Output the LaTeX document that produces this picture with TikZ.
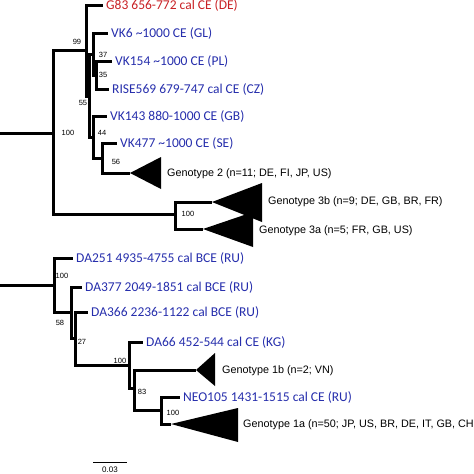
\documentclass[tikz,border=0pt]{standalone}
\usepackage{fontspec}
\setmainfont{Liberation Sans}
\newfontfamily\calfont{Carlito}
\definecolor{tipblue}{RGB}{38,46,172}
\definecolor{tipred}{RGB}{200,32,36}
\begin{document}
\begin{tikzpicture}[x=1pt,y=-1pt,
  br/.style={line width=3pt},
  tri/.style={fill=black,draw=none},
  tiplab/.style={anchor=west,inner xsep=3pt,inner ysep=0pt,font=\calfont\fontsize{13.5}{14}\selectfont,text=tipblue},
  genlab/.style={anchor=west,inner sep=0pt,font=\fontsize{10.8}{12}\selectfont},
  bs/.style={inner sep=0pt,font=\fontsize{7.5}{8}\selectfont}]
\useasboundingbox (0,0) rectangle (474,474);
% ---------- upper tree ----------
\coordinate (r1) at (0,133);
\coordinate (n1) at (53,133);
\coordinate (n99) at (86,50);
\coordinate (n55) at (89,96);
\coordinate (n37) at (93,54);
\coordinate (n35) at (96,75);
\coordinate (n44) at (93,137);
\coordinate (n56) at (102,158);
\coordinate (n3) at (175,214);
\coordinate (g2) at (130,173);
\coordinate (g3b) at (212,202);
\coordinate (g3a) at (203,229);
\node[tiplab,text=tipred] (g83) at (103,5) {G83 656-772 cal CE (DE)};
\node[tiplab] (vk6) at (108,33) {VK6 \textasciitilde1000 CE (GL)};
\node[tiplab] (vk154) at (112,61) {VK154 \textasciitilde1000 CE (PL)};
\node[tiplab] (rise) at (109,89) {RISE569 679-747 cal CE (CZ)};
\node[tiplab] (vk143) at (107,116) {VK143 880-1000 CE (GB)};
\node[tiplab] (vk477) at (117,143) {VK477 \textasciitilde1000 CE (SE)};
\draw[br] (r1) -- (n1);
\draw[br] (n1) |- (n99);
\draw[br] (n1) |- (n3);
\draw[br] (n99) |- (g83.west);
\draw[br] (n99) |- (n55);
\draw[br] (n55) |- (n37);
\draw[br] (n55) |- (n44);
\draw[br] (n37) |- (vk6.west);
\draw[br] (n37) |- (n35);
\draw[br] (n35) |- (vk154.west);
\draw[br] (n35) |- (rise.west);
\draw[br] (n44) |- (vk143.west);
\draw[br] (n44) |- (n56);
\draw[br] (n56) |- (vk477.west);
\draw[br] (n56) |- (g2);
\draw[br] (n3) |- (g3b);
\draw[br] (n3) |- (g3a);
\coordinate (g2t) at (161,157); \coordinate (g2b) at (161,189);
\fill[tri] (g2) -- (g2t) -- (g2b) -- cycle;
\coordinate (g3bt) at (262,183); \coordinate (g3bb) at (262,222);
\fill[tri] (g3b) -- (g3bt) -- (g3bb) -- cycle;
\coordinate (g3at) at (253,212); \coordinate (g3ab) at (253,247);
\fill[tri] (g3a) -- (g3at) -- (g3ab) -- cycle;
\node[genlab] (l2) at (167,174) {Genotype 2 (n=11; DE, FI, JP, US)};
\node[genlab] (l3b) at (268,202) {Genotype 3b (n=9; DE, GB, BR, FR)};
\node[genlab] (l3a) at (259,231) {Genotype 3a (n=5; FR, GB, US)};
\node[bs] (s99) at (77,42) {99};
\node[bs] (s100a) at (68,133) {100};
\node[bs] (s37) at (103,55) {37};
\node[bs] (s35) at (103,75) {35};
\node[bs] (s55) at (83,103) {55};
\node[bs] (s44) at (102,133) {44};
\node[bs] (s56) at (116,162) {56};
\node[bs] (s100b) at (188,214) {100};
% ---------- lower tree ----------
\coordinate (r2) at (0,285);
\coordinate (m1) at (54,285);
\coordinate (n58) at (71,312);
\coordinate (n27) at (75,338);
\coordinate (nk) at (129,365);
\coordinate (n83) at (134,388);
\coordinate (n1a) at (161,410);
\coordinate (g1b) at (196,370);
\coordinate (g1a) at (171,424);
\node[tiplab] (da251) at (73,258) {DA251 4935-4755 cal BCE (RU)};
\node[tiplab] (da377) at (82,287) {DA377 2049-1851 cal BCE (RU)};
\node[tiplab] (da366) at (88,312) {DA366 2236-1122 cal BCE (RU)};
\node[tiplab] (da66) at (143,342) {DA66 452-544 cal CE (KG)};
\node[tiplab] (neo) at (180,397) {NEO105 1431-1515 cal CE (RU)};
\draw[br] (r2) -- (m1);
\draw[br] (m1) |- (da251.west);
\draw[br] (m1) |- (n58);
\draw[br] (n58) |- (da377.west);
\draw[br] (n58) |- (n27);
\draw[br] (n27) |- (da366.west);
\draw[br] (n27) |- (nk);
\draw[br] (nk) |- (da66.west);
\draw[br] (nk) |- (n83);
\draw[br] (n83) |- (g1b);
\draw[br] (n83) |- (n1a);
\draw[br] (n1a) |- (neo.west);
\draw[br] (n1a) |- (g1a);
\coordinate (g1bt) at (215,353); \coordinate (g1bb) at (215,386);
\fill[tri] (g1b) -- (g1bt) -- (g1bb) -- cycle;
\coordinate (g1at) at (238,408); \coordinate (g1ab) at (238,442);
\fill[tri] (g1a) -- (g1at) -- (g1ab) -- cycle;
\node[genlab] (l1b) at (222,371) {Genotype 1b (n=2; VN)};
\node[genlab] (l1a) at (243,425) {Genotype 1a (n=50; JP, US, BR, DE, IT, GB, CH};
\node[bs] (t100a) at (62,276) {100};
\node[bs] (t58) at (60,323) {58};
\node[bs] (t27) at (82,342) {27};
\node[bs] (t100b) at (120,361) {100};
\node[bs] (t83) at (142,392) {83};
\node[bs] (t100c) at (173,413) {100};
% ---------- scale bar ----------
\coordinate (sb1) at (93,462);
\coordinate (sb2) at (127,462);
\draw[line width=1pt] (sb1) -- (sb2);
\node[bs,anchor=north,font=\fontsize{8}{9}\selectfont] (sbl) at (110,467) {0.03};
\end{tikzpicture}
\end{document}
